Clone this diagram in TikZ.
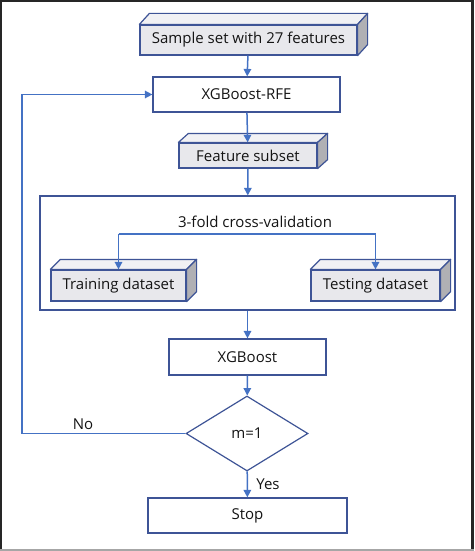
\documentclass[tikz,border=0pt]{standalone}
\usepackage{fontspec}
\setmainfont{Open Sans}
\usetikzlibrary{shapes.geometric, arrows.meta, calc}
\definecolor{lineblue}{RGB}{68,114,196}
\definecolor{boxline}{RGB}{62,84,150}
\definecolor{boxfront}{RGB}{232,232,236}
\definecolor{boxtop}{RGB}{241,241,244}
\definecolor{boxside}{RGB}{176,176,180}
\definecolor{textgray}{RGB}{20,20,20}
\tikzstyle{arrow} = [lineblue, line width=1.5pt, -{Triangle[length=7.5pt,width=7.5pt]}]
\tikzstyle{line} = [lineblue, line width=1.5pt]
\tikzstyle{label} = [text=textgray, font=\fontsize{15}{18}\selectfont]
\tikzstyle{plain} = [label, draw=boxline, line width=1.2pt, fill=white, rectangle]
\tikzstyle{cube} = [plain, fill=boxfront]
\tikzstyle{topface} = [draw=boxline, line width=1.2pt, fill=boxtop, line join=round]
\tikzstyle{sideface} = [draw=boxline, line width=1.2pt, fill=boxside, line join=round]

\begin{document}
\begin{tikzpicture}[x=1pt, y=-1pt]
            \useasboundingbox (0,0) rectangle (474,551);
            % frame of the screenshot
            \fill[black!85] (0,0) rectangle (474,2.5);
            \fill[black!85] (0,0) rectangle (2,551);
            \fill[black!85] (471,0) rectangle (474,551);
            \fill[black!35] (0,548.5) rectangle (474,551);

            \node[cube, minimum width=217, minimum height=30] (sample) at (248.5,40) {Sample set with 27 features};
            \node[plain, minimum width=187, minimum height=35] (rfe) at (246.5,94.5) {XGBoost-RFE};
            \node[cube, minimum width=138, minimum height=25] (subset) at (248,155.5) {Feature subset};
            \node[plain, minimum width=415, minimum height=114] (cv) at (247.5,253) {};
            \node[label] (cvlabel) at (255,222) {3-fold cross-validation};
            \node[cube, minimum width=135, minimum height=31] (train) at (118.5,285.5) {Training dataset};
            \node[cube, minimum width=129, minimum height=31] (test) at (375.5,285.5) {Testing dataset};
            \node[plain, minimum width=157, minimum height=36] (xgb) at (247.5,357) {XGBoost};
            \node[label, draw=boxline, line width=1.2pt, diamond, aspect=1.63, minimum width=122, minimum height=75, inner sep=0] (dec) at (247,433.5) {m=1};
            \node[plain, minimum width=199, minimum height=35] (stop) at (247.5,515.5) {Stop};
            \node[label] (no) at (83,424) {No};
            \node[label] (yes) at (268,484) {Yes};

            % 3D faces
            \foreach \n/\dx/\dy in {sample/10/11, subset/10/9, train/10/10, test/10/10} {
                \draw[topface] (\n.north west) -- ++(\dx,-\dy) -- ($(\n.north east)+(\dx,-\dy)$) -- (\n.north east) -- cycle;
                \draw[sideface] (\n.north east) -- ++(\dx,-\dy) -- ($(\n.south east)+(\dx,-\dy)$) -- (\n.south east) -- cycle;
            }

            \coordinate (bl) at (118.5,234);
            \coordinate (br) at (375.5,234);
            \coordinate (back) at (22,433.5);

            \draw[arrow] (sample) -- (rfe);
            \draw[arrow] (rfe) -- (subset);
            \draw[arrow] (subset) -- (cv);
            \draw[line] (bl) -- (br);
            \draw[arrow] (bl) -- (train);
            \draw[arrow] (br) -- (test);
            \draw[arrow] (cv) -- (xgb);
            \draw[arrow] (xgb) -- (dec);
            \draw[arrow] (dec) -- (stop);
            \draw[arrow] (dec.west) -- (back) |- (rfe.west);
        \end{tikzpicture}
\end{document}
